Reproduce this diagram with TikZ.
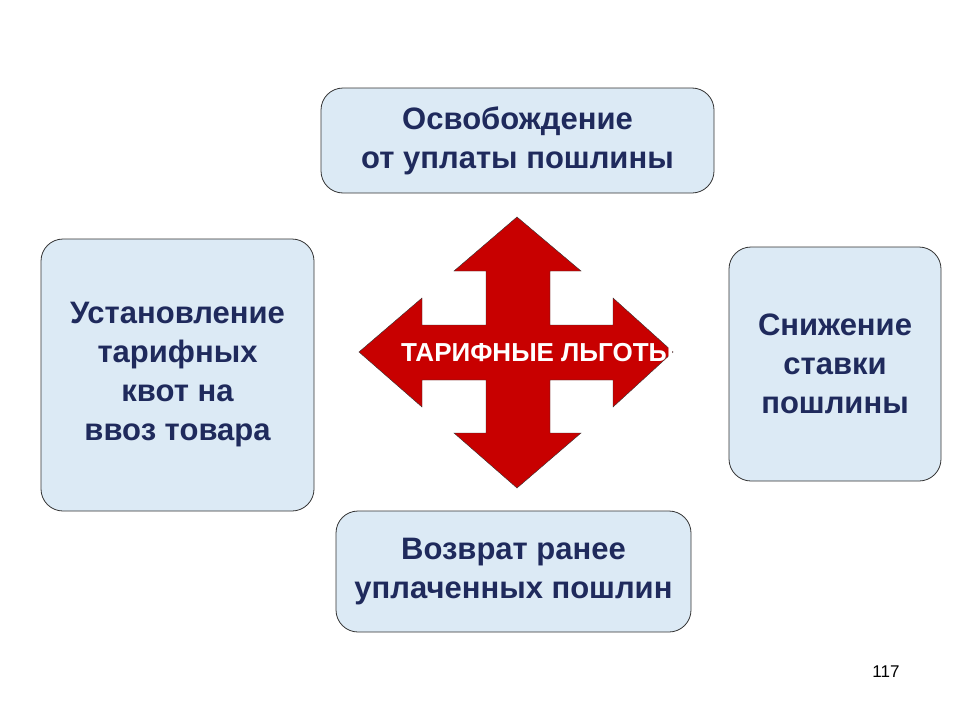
\documentclass[tikz,border=0pt]{standalone}
\usepackage{fontspec}
\setmainfont{Liberation Sans}
\definecolor{navy}{HTML}{1F2A5C}
\definecolor{icebox}{HTML}{DCEAF5}
\definecolor{crossred}{HTML}{C80000}
\tikzset{
  benefit/.style={draw=black!80, fill=icebox, rounded corners=22pt, thick,
    font=\bfseries\fontsize{31}{39}\selectfont, text=navy, align=center, inner sep=0pt},
}
\begin{document}
\begin{tikzpicture}[x=1pt,y=-1pt]
  \useasboundingbox (0,0) rectangle (960,720);

  % four benefit boxes
  \node [benefit, minimum width=393pt, minimum height=105pt] (free) at (517.5,140.5)
    {Освобождение\\ от уплаты пошлины};
  \node [benefit, minimum width=273pt, minimum height=272pt] (quota) at (177.5,375)
    {Установление\\тарифных\\квот на\\ввоз товара};
  \node [benefit, minimum width=212pt, minimum height=234pt] (rate) at (835,364)
    {Снижение\\ставки\\ пошлины};
  \node [benefit, minimum width=355pt, minimum height=121pt] (refund) at (513.5,571.5)
    {Возврат ранее\\уплаченных пошлин};

  % cross of arrows
  \draw [fill=crossred, draw=black!80, line join=miter]
    (517,217) -- (581,271) -- (550,271) -- (550,325) -- (613,325) -- (613,298)
    -- (673,352) -- (613,407) -- (613,380) -- (550,380) -- (550,433) -- (581,433)
    -- (517,488) -- (454,433) -- (486,433) -- (486,380) -- (422,380) -- (422,407)
    -- (359,352) -- (422,298) -- (422,325) -- (486,325) -- (486,271) -- (454,271) -- cycle;
  \node [anchor=west, text=white, font=\bfseries\fontsize{26}{30}\selectfont, inner sep=0pt]
    (title) at (401,353) {ТАРИФНЫЕ ЛЬГОТЫ};

  \node [font=\fontsize{17}{20}\selectfont] (page) at (886,672) {117};
\end{tikzpicture}
\end{document}
